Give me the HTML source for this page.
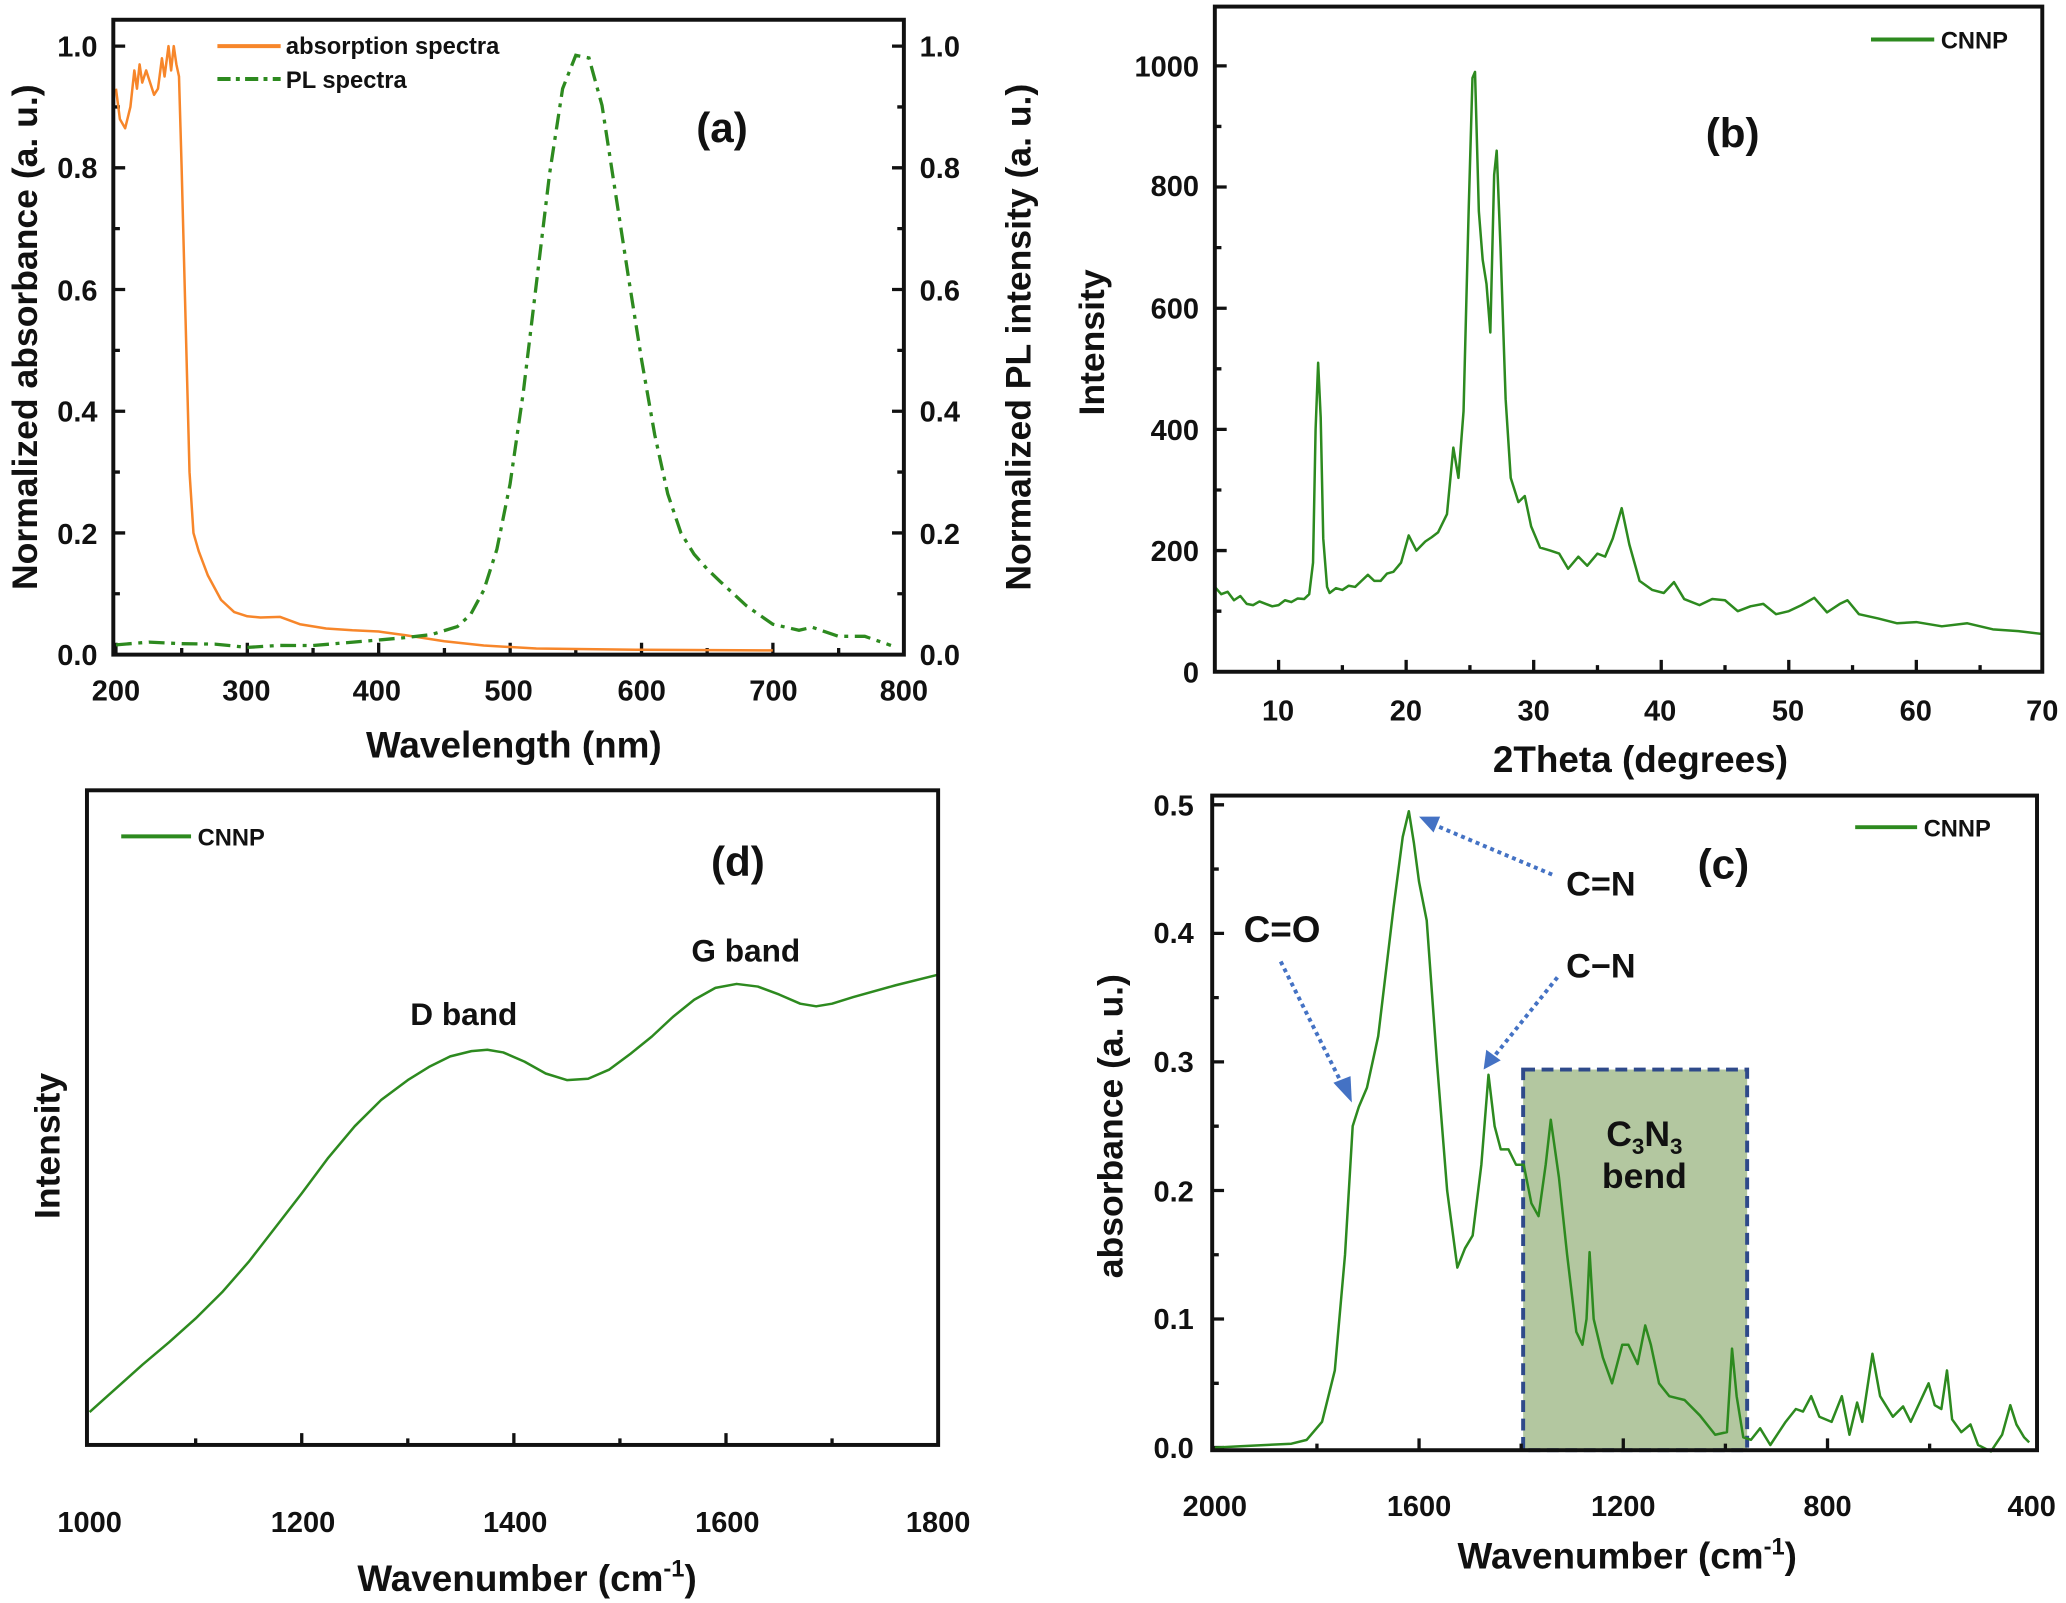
<!DOCTYPE html>
<html><head><meta charset="utf-8">
<style>
html,body{margin:0;padding:0;background:#fff;}
svg{display:block;}
text{font-family:"Liberation Sans",Arial,sans-serif;font-weight:bold;fill:#111;}
.c{fill:none;vector-effect:non-scaling-stroke;stroke-linejoin:round;}
</style></head>
<body>
<svg width="2066" height="1603" viewBox="0 0 1568 1217" preserveAspectRatio="none" xmlns="http://www.w3.org/2000/svg">
<rect width="1568" height="1217" fill="#fff"/>
<rect x="1156" y="812" width="170" height="289" fill="#b3c7a0" stroke="#2f4a8a" stroke-width="3" stroke-dasharray="9 5"/>
<g stroke="#111" stroke-width="2.5" fill="none">
<path d="M86 497h9M86 450.8h5M86 404.6h9M86 358.4h5M86 312.2h9M86 266h5M86 219.8h9M86 173.6h5M86 127.4h9M86 81.2h5M86 35h9"/>
<path d="M686 497h-9M686 450.8h-5M686 404.6h-9M686 358.4h-5M686 312.2h-9M686 266h-5M686 219.8h-9M686 173.6h-5M686 127.4h-9M686 81.2h-5M686 35h-9"/>
<path d="M88 497v-9M137.9 497v-5M187.7 497v-9M237.6 497v-5M287.4 497v-9M337.3 497v-5M387.2 497v-9M437 497v-5M486.9 497v-9M536.7 497v-5M586.6 497v-9M636.5 497v-5"/>
<path d="M922 464h5M922 418h9M922 372h5M922 326h9M922 280h5M922 234h9M922 188h5M922 142h9M922 96h5M922 50h9"/>
<path d="M970.4 510v-9M1018.8 510v-5M1067.2 510v-9M1115.6 510v-5M1164 510v-9M1212.4 510v-5M1260.8 510v-9M1309.2 510v-5M1357.6 510v-9M1406 510v-5M1454.4 510v-9M1502.8 510v-5"/>
<path d="M148.5 1097v-5M229 1097v-9M309.5 1097v-5M390 1097v-9M470.5 1097v-5M551 1097v-9M631.5 1097v-5"/>
<path d="M920 1099h9M920 1050.2h5M920 1001.4h9M920 952.6h5M920 903.8h9M920 855h5M920 806.2h9M920 757.4h5M920 708.6h9M920 659.8h5M920 611h9"/>
<path d="M999.5 1101v-5M1077 1101v-9M1154.5 1101v-5M1232 1101v-9M1309.5 1101v-5M1387 1101v-9M1464.5 1101v-5"/>
</g>
<g transform="translate(-111.4,497) scale(0.997,-462)">
<polyline class="c" stroke="#f7862a" stroke-width="2.5" points="200,0.93 203,0.88 207,0.865 211,0.9 214,0.96 216,0.93 218,0.97 220,0.94 223,0.96 226,0.94 229,0.92 232,0.93 235,0.98 237,0.95 240,1.0 242,0.96 244,1.0 246,0.97 248,0.95 250,0.8 253,0.55 256,0.3 259,0.2 263,0.17 270,0.13 280,0.09 290,0.07 300,0.063 310,0.061 325,0.062 340,0.05 360,0.043 380,0.04 400,0.038 420,0.032 450,0.022 480,0.015 520,0.01 600,0.008 700,0.007"/>
</g>
<polyline fill="none" stroke="#2d8a1f" stroke-width="2.5" stroke-dasharray="12 5 3 5" points="88,489.6 113,487.5 137.9,488.7 163,489 187.7,491.5 212,490 237.6,490.1 262,488 287.4,485.9 307.3,484.1 327.3,481.8 347.2,475.7 357.2,466.5 367.2,448 377.1,417.1 387.1,367.6 397.1,298.3 407.1,215.2 417.1,132 427,67.3 437,42 447,44 456.9,80 466.9,145 476.9,210 486.9,273 496.9,330 506.8,375 516.8,404.6 526.8,420.8 536.7,432 546.7,441.6 566.6,460 586.5,473.9 606.4,478.5 616.4,476.2 636.4,483.1 656.3,483.1 676.2,490"/>
<g transform="translate(873.6,510) scale(9.68,-0.46)">
<polyline class="c" stroke="#2d8a1f" stroke-width="2.5" points="5,140 5.5,128 6,132 6.5,118 7,125 7.5,112 8,110 8.5,116 9,112 9.5,108 10,110 10.5,118 11,115 11.5,121 12,120 12.4,128 12.7,180 12.9,400 13.1,510 13.3,420 13.5,220 13.8,140 14,130 14.5,138 15,135 15.5,142 16,140 16.5,150 17,160 17.5,150 18,150 18.5,162 19,165 19.6,180 20.2,225 20.8,200 21.5,215 22,222 22.5,230 23.2,260 23.7,370 24.1,320 24.5,430 24.9,760 25.2,980 25.4,990 25.7,760 26.0,680 26.3,640 26.6,560 26.9,820 27.1,860 27.4,700 27.8,450 28.2,320 28.8,280 29.3,290 29.8,240 30.5,205 31.3,200 32,195 32.7,170 33.5,190 34.2,175 35,195 35.6,190 36.2,220 36.9,270 37.5,210 38.3,150 39.3,135 40.2,130 41,148 41.8,120 43,110 44,120 45,118 46,100 47,108 48,112 49,95 50,100 51,110 52,122 53,98 54,112 54.6,118 55.5,95 57,88 58.5,80 60,82 62,75 64,80 66,70 68,67 70,62"/>
</g>
<g transform="translate(-737,0) scale(0.805,1)">
<polyline class="c" stroke="#2d8a1f" stroke-width="2.5" points="1000,1072 1025,1054 1050,1036 1075,1019 1100,1001 1125,981 1150,958 1175,932 1200,906 1225,879 1250,855 1275,835 1300,820 1320,810 1340,802 1360,798 1375,797 1390,799 1410,806 1430,815 1450,820 1470,819 1490,812 1510,800 1530,787 1550,772 1570,759 1590,750 1610,747 1630,749 1650,755 1670,762 1685,764 1700,762 1720,757 1760,748 1800,740"/>
</g>
<g transform="translate(1697,1099) scale(-0.3875,-976)">
<polyline class="c" stroke="#2d8a1f" stroke-width="2.5" points="2000,0 1950,0.001 1900,0.002 1850,0.003 1820,0.006 1790,0.02 1765,0.06 1745,0.15 1730,0.25 1718,0.265 1702,0.28 1680,0.32 1650,0.42 1632,0.475 1620,0.495 1610,0.47 1600,0.44 1585,0.41 1565,0.3 1545,0.2 1525,0.14 1510,0.155 1495,0.165 1478,0.22 1464,0.29 1452,0.25 1440,0.232 1425,0.232 1410,0.22 1395,0.22 1380,0.19 1366,0.18 1352,0.22 1342,0.255 1326,0.21 1310,0.15 1292,0.09 1280,0.08 1272,0.1 1266,0.152 1258,0.1 1240,0.07 1222,0.05 1202,0.08 1190,0.08 1172,0.065 1157,0.095 1146,0.08 1130,0.05 1110,0.04 1080,0.037 1050,0.025 1020,0.01 997,0.012 987,0.077 978,0.04 965,0.008 950,0.006 932,0.015 912,0.002 882,0.02 862,0.03 848,0.028 832,0.04 816,0.024 792,0.02 772,0.04 757,0.01 742,0.035 732,0.02 712,0.073 697,0.04 672,0.024 652,0.032 637,0.02 602,0.05 590,0.033 577,0.03 566,0.06 556,0.022 538,0.012 520,0.018 505,0.002 480,-0.003 458,0.01 442,0.033 430,0.018 415,0.008 405,0.004"/>
</g>
<g fill="none" stroke="#111" stroke-width="3">
<rect x="86" y="15" width="600" height="482"/>
<rect x="922" y="5" width="628" height="505"/>
<rect x="66" y="600" width="646" height="497"/>
<rect x="920" y="604" width="626" height="497"/>
</g>
<g font-size="22" text-anchor="end">
<text x="74" y="505">0.0</text><text x="74" y="413">0.2</text><text x="74" y="320">0.4</text>
<text x="74" y="228">0.6</text><text x="74" y="135">0.8</text><text x="74" y="43">1.0</text>
</g>
<g font-size="22" text-anchor="start">
<text x="698" y="505">0.0</text><text x="698" y="413">0.2</text><text x="698" y="320">0.4</text>
<text x="698" y="228">0.6</text><text x="698" y="135">0.8</text><text x="698" y="43">1.0</text>
</g>
<g font-size="22" text-anchor="middle">
<text x="88" y="532">200</text><text x="187" y="532">300</text><text x="286" y="532">400</text>
<text x="386" y="532">500</text><text x="487" y="532">600</text><text x="587" y="532">700</text><text x="686" y="532">800</text>
</g>
<text x="390" y="575" font-size="28" text-anchor="middle">Wavelength (nm)</text>
<text transform="translate(28,256) rotate(-90)" font-size="27" text-anchor="middle">Normalized absorbance (a. u.)</text>
<text transform="translate(782,256) rotate(-90)" font-size="27" text-anchor="middle">Normalized PL intensity (a. u.)</text>
<line x1="165" y1="35" x2="213" y2="35" stroke="#f7862a" stroke-width="3"/>
<text x="217" y="41" font-size="18">absorption spectra</text>
<line x1="165" y1="60" x2="213" y2="60" stroke="#2d8a1f" stroke-width="3" stroke-dasharray="10 4 3 4"/>
<text x="217" y="67" font-size="18">PL spectra</text>
<text x="548" y="108" font-size="32" text-anchor="middle">(a)</text>
<g font-size="22" text-anchor="end">
<text x="910" y="518">0</text><text x="910" y="426">200</text><text x="910" y="334">400</text>
<text x="910" y="242">600</text><text x="910" y="149">800</text><text x="910" y="58">1000</text>
</g>
<g font-size="22" text-anchor="middle">
<text x="970" y="547">10</text><text x="1067" y="547">20</text><text x="1164" y="547">30</text><text x="1260" y="547">40</text>
<text x="1357" y="547">50</text><text x="1454" y="547">60</text><text x="1550" y="547">70</text>
</g>
<text x="1245" y="586" font-size="28" text-anchor="middle">2Theta (degrees)</text>
<text transform="translate(838,260) rotate(-90)" font-size="27" text-anchor="middle">Intensity</text>
<line x1="1420" y1="30" x2="1468" y2="30" stroke="#2d8a1f" stroke-width="3"/>
<text x="1473" y="37" font-size="18">CNNP</text>
<text x="1315" y="112" font-size="32" text-anchor="middle">(b)</text>
<g font-size="22" text-anchor="middle">
<text x="68" y="1163">1000</text><text x="230" y="1163">1200</text><text x="391" y="1163">1400</text>
<text x="552" y="1163">1600</text><text x="712" y="1163">1800</text>
</g>
<text x="400" y="1208" font-size="28" text-anchor="middle">Wavenumber (cm<tspan font-size="18" dy="-11">-1</tspan><tspan dy="11">)</tspan></text>
<text transform="translate(45,870) rotate(-90)" font-size="27" text-anchor="middle">Intensity</text>
<line x1="92" y1="635" x2="145" y2="635" stroke="#2d8a1f" stroke-width="3"/>
<text x="150" y="642" font-size="18">CNNP</text>
<text x="560" y="665" font-size="32" text-anchor="middle">(d)</text>
<text x="352" y="778" font-size="24" text-anchor="middle">D band</text>
<text x="566" y="730" font-size="24" text-anchor="middle">G band</text>
<g font-size="22" text-anchor="end">
<text x="906" y="1107">0.0</text><text x="906" y="1009">0.1</text><text x="906" y="912">0.2</text>
<text x="906" y="814">0.3</text><text x="906" y="716">0.4</text><text x="906" y="619">0.5</text>
</g>
<g font-size="22" text-anchor="middle">
<text x="922" y="1151">2000</text><text x="1077" y="1151">1600</text><text x="1232" y="1151">1200</text>
<text x="1387" y="1151">800</text><text x="1542" y="1151">400</text>
</g>
<text x="1235" y="1191" font-size="28" text-anchor="middle">Wavenumber (cm<tspan font-size="18" dy="-11">-1</tspan><tspan dy="11">)</tspan></text>
<text transform="translate(852,855) rotate(-90)" font-size="27" text-anchor="middle">absorbance (a. u.)</text>
<line x1="1408" y1="628" x2="1455" y2="628" stroke="#2d8a1f" stroke-width="3"/>
<text x="1460" y="635" font-size="18">CNNP</text>
<text x="1308" y="667" font-size="32" text-anchor="middle">(c)</text>
<text x="973" y="715" font-size="28" text-anchor="middle">C=O</text>
<text x="1215" y="680" font-size="26" text-anchor="middle">C=N</text>
<text x="1215" y="742" font-size="26" text-anchor="middle">C−N</text>
<text x="1248" y="870" font-size="27" text-anchor="middle">C<tspan font-size="17" dy="6">3</tspan><tspan dy="-6">N</tspan><tspan font-size="17" dy="6">3</tspan></text>
<text x="1248" y="902" font-size="27" text-anchor="middle">bend</text>
<g stroke="#4472c4" stroke-width="3" stroke-dasharray="3 3" fill="none">
<line x1="972" y1="730" x2="1018" y2="822"/>
<line x1="1178" y1="664" x2="1088" y2="626"/>
<line x1="1182" y1="742" x2="1134" y2="802"/>
</g>
<g fill="#4472c4">
<polygon points="1026,837 1012,822 1025,817"/>
<polygon points="1077,620 1093,620 1088,632"/>
<polygon points="1126,812 1128,797 1139,805"/>
</g>
</svg>
</body></html>
